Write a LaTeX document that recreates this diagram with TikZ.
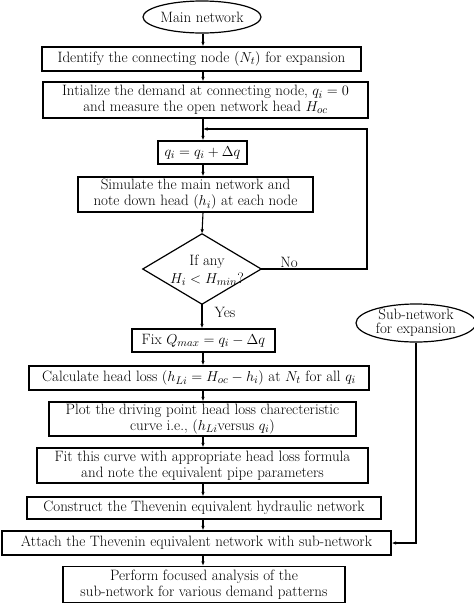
\documentclass[tikz,border=0pt]{standalone}
\usetikzlibrary{arrows.meta,shapes.geometric}
\begin{document}
\begin{tikzpicture}[x=1pt,y=-1pt,
  every node/.style={font=\fontsize{15}{16}\selectfont},
  box/.style={draw, line width=1.2pt, inner xsep=3pt, inner ysep=0pt, align=center},
  oval/.style={draw, ellipse, line width=1.2pt, inner sep=0pt, align=center},
  link/.style={line width=1.2pt},
  arr/.style={line width=1.1pt, -{Latex[length=4.5pt,width=3.5pt]}}]
\useasboundingbox (0,0) rectangle (474,603);
\coordinate (col) at (203,0);
\node[oval, minimum width=118, minimum height=32] (main) at (202,17) {Main network};
\node[box, minimum width=319, minimum height=24] (b1) at (201.5,59) {Identify the connecting node $(N_t)$ for expansion};
\node[box, minimum width=325, minimum height=36] (b2) at (205.5,100) {Intialize the demand at connecting node, $q_i=0$\\and measure the open network head $H_{oc}$};
\node[box, minimum width=89, minimum height=23] (b3) at (202.5,152.5) {$q_i=q_i+\Delta q$};
\node[box, minimum width=235, minimum height=35] (b4) at (195.5,194.5) {Simulate the main network and\\note down head $(h_i)$ at each node};
\node[minimum width=118, minimum height=70, inner sep=0pt] (dia) at (202,269) {};
\draw[link] (dia.north) -- (dia.east) -- (dia.south) -- (dia.west) -- cycle;
\node[align=center, inner sep=0pt, font=\fontsize{15}{18}\selectfont] (diatext) at (207,270) {If any\\$H_i<H_{min}$?};
\node[box, minimum width=143, minimum height=23] (fix) at (203.5,340.5) {Fix $Q_{max}=q_i-\Delta q$};
\node[box, minimum width=340, minimum height=24] (calc) at (199,378) {Calculate head loss $(h_{Li}=H_{oc}-h_i)$ at $N_t$ for all $q_i$};
\node[box, minimum width=307, minimum height=34] (plot) at (202.5,419) {Plot the driving point head loss charecteristic\\curve i.e., $(h_{Li}$versus $q_i)$};
\node[box, minimum width=331, minimum height=35] (fit) at (202.5,465.5) {Fit this curve with appropriate head loss formula\\and note the equivalent pipe parameters};
\node[box, minimum width=354, minimum height=22] (cons) at (204,508) {Construct the Thevenin equivalent hydraulic network};
\node[box, minimum width=389, minimum height=24] (att) at (196.5,543) {Attach the Thevenin equivalent network with sub-network};
\node[box, minimum width=282, minimum height=36] (perf) at (204,584.5) {Perform focused analysis of the\\sub-network for various demand patterns};
\node[oval, inner xsep=-4pt, inner ysep=-3pt, minimum width=120, minimum height=38, font=\fontsize{15}{14}\selectfont] (sub) at (416,323) {Sub-network\\for expansion};
\node (nolab) at (289,262) {No};
\node (yeslab) at (225,312) {Yes};
\coordinate (loopR) at (367,129);
\draw[arr] (main.south -| col) -- (b1.north -| col);
\draw[arr] (b1.south -| col) -- (b2.north -| col);
\draw[arr] (b2.south -| col) -- (b3.north -| col);
\draw[arr] (b3.south -| col) -- (b4.north -| col);
\draw[arr] (b4.south -| col) -- (dia.north);
\draw[arr] (dia.east) -- (dia.east -| loopR) -- (loopR) -- (col |- loopR);
\draw[arr] (dia.south) -- (fix.north -| dia.south);
\draw[arr] (fix.south -| col) -- (calc.north -| col);
\draw[arr] (calc.south -| col) -- (plot.north -| col);
\draw[arr] (plot.south -| col) -- (fit.north -| col);
\draw[arr] (fit.south -| col) -- (cons.north -| col);
\draw[arr] (cons.south -| col) -- (att.north -| col);
\draw[arr] (att.south -| col) -- (perf.north -| col);
\draw[arr] (sub.south) -- (sub.south |- att.east) -- (att.east);
\end{tikzpicture}
\end{document}
